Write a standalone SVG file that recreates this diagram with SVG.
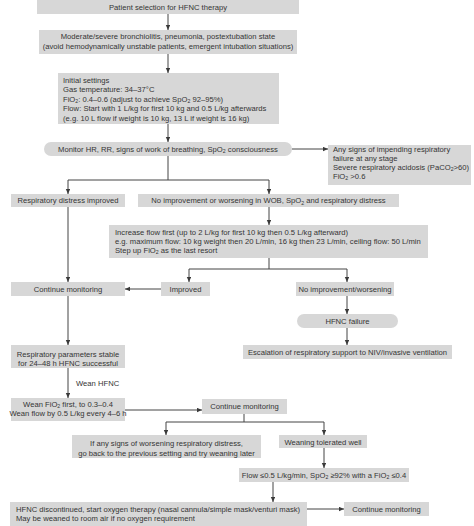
<svg xmlns="http://www.w3.org/2000/svg" width="474" height="526" viewBox="0 0 474 526">
<defs>
<marker id="ah" markerWidth="5" markerHeight="5" refX="5" refY="2.2" orient="auto" markerUnits="userSpaceOnUse">
<path d="M0,0 L5,2.2 L0,4.4 z" fill="#3a3a3a"/>
</marker>
<style>
rect{fill:#d7d7d7;stroke:none}
text{font-family:"Liberation Sans",Arial,sans-serif;font-size:7.65px;fill:#353535}
.c{text-anchor:middle}
.s{font-size:5.2px}
#connectors line,#connectors polyline{stroke:#444;stroke-width:1;fill:none}
.a{marker-end:url(#ah)}
</style>
</defs>
<rect width="474" height="526" style="fill:#fff"/>
<g id="connectors">
<line class="a" x1="168" y1="14" x2="168" y2="30"/>
<line class="a" x1="168" y1="54" x2="168" y2="73"/>
<line class="a" x1="168" y1="124" x2="168" y2="142"/>
<line class="a" x1="292" y1="149" x2="328" y2="149"/>
<line x1="168" y1="156" x2="168" y2="180"/>
<line x1="68" y1="180" x2="269" y2="180"/>
<line class="a" x1="68" y1="180" x2="68" y2="194"/>
<line class="a" x1="269" y1="180" x2="269" y2="194"/>
<line class="a" x1="269" y1="207" x2="269" y2="225"/>
<line class="a" x1="68" y1="207" x2="68" y2="282"/>
<line x1="269" y1="258" x2="269" y2="269"/>
<line x1="189" y1="269" x2="347" y2="269"/>
<line class="a" x1="189" y1="269" x2="189" y2="282"/>
<line class="a" x1="347" y1="269" x2="347" y2="282"/>
<line class="a" x1="161" y1="289" x2="125" y2="289"/>
<line class="a" x1="347" y1="296" x2="347" y2="314"/>
<line class="a" x1="347" y1="328" x2="347" y2="345"/>
<line class="a" x1="68" y1="296" x2="68" y2="345"/>
<line class="a" x1="68" y1="368" x2="68" y2="398"/>
<line class="a" x1="125" y1="410" x2="202" y2="410"/>
<line x1="244" y1="414" x2="244" y2="422"/>
<line x1="166" y1="422" x2="324" y2="422"/>
<line class="a" x1="166" y1="422" x2="166" y2="435"/>
<line class="a" x1="324" y1="422" x2="324" y2="435"/>
<line class="a" x1="324" y1="448" x2="324" y2="468"/>
<line class="a" x1="273" y1="482" x2="273" y2="502"/>
<line class="a" x1="307" y1="509" x2="344" y2="509"/>
</g>
<g id="n1"><rect x="37" y="0" width="262" height="14"/><text class="c" x="168" y="9.5">Patient selection for HFNC therapy</text></g>
<g id="n2"><rect x="39" y="30" width="258" height="24"/><text class="c" x="168" y="38.5">Moderate/severe bronchiolitis, pneumonia, postextubation state</text><text class="c" x="168" y="48.5">(avoid hemodynamically unstable patients, emergent intubation situations)</text></g>
<g id="n3"><rect x="58" y="73" width="221" height="51"/>
<text x="63" y="82.5">Initial settings</text>
<text x="63" y="92">Gas temperature: 34–37°C</text>
<text x="63" y="101.5">FiO<tspan class="s" dy="1.5">2</tspan><tspan dy="-1.5">: 0.4–0.6 (adjust to achieve SpO</tspan><tspan class="s" dy="1.5">2</tspan><tspan dy="-1.5"> 92–95%)</tspan></text>
<text x="63" y="111">Flow: Start with 1 L/kg for first 10 kg and 0.5 L/kg afterwards</text>
<text x="63" y="120.5">(e.g. 10 L flow if weight is 10 kg, 13 L if weight is 16 kg)</text></g>
<g id="n4"><rect x="44" y="142" width="248" height="14" rx="7"/><text class="c" x="168" y="151.5">Monitor HR, RR, signs of work of breathing, SpO<tspan class="s" dy="1.5">2</tspan><tspan dy="-1.5"> consciousness</tspan></text></g>
<g id="n5"><rect x="328" y="145" width="143" height="40"/>
<text x="333" y="151.5">Any signs of impending respiratory</text>
<text x="333" y="160.5">failure at any stage</text>
<text x="333" y="169.5">Severe respiratory acidosis (PaCO<tspan class="s" dy="1.5">2</tspan><tspan dy="-1.5">&gt;60)</tspan></text>
<text x="333" y="178.5">FiO<tspan class="s" dy="1.5">2</tspan><tspan dy="-1.5"> &gt;0.6</tspan></text></g>
<g id="n6"><rect x="11" y="194" width="114" height="13"/><text class="c" x="68" y="203">Respiratory distress improved</text></g>
<g id="n7"><rect x="138" y="194" width="261" height="13"/><text class="c" x="268.5" y="203">No improvement or worsening in WOB, SpO<tspan class="s" dy="1.5">2</tspan><tspan dy="-1.5"> and respiratory distress</tspan></text></g>
<g id="n8"><rect x="109" y="225" width="319" height="33"/>
<text x="115" y="234.5">Increase flow first (up to 2 L/kg for first 10 kg then 0.5 L/kg afterward)</text>
<text x="115" y="243.5">e.g. maximum flow: 10 kg weight then 20 L/min, 16 kg then 23 L/min, ceiling flow: 50 L/min</text>
<text x="115" y="252.5">Step up FiO<tspan class="s" dy="1.5">2</tspan><tspan dy="-1.5"> as the last resort</tspan></text></g>
<g id="n9"><rect x="161" y="282" width="49" height="14"/><text class="c" x="185.5" y="291.5">Improved</text></g>
<g id="n10"><rect x="11" y="282" width="114" height="14"/><text class="c" x="68" y="291.5">Continue monitoring</text></g>
<g id="n11"><rect x="296" y="282" width="98" height="14"/><text class="c" x="345" y="291.5">No improvement/worsening</text></g>
<g id="n12"><rect x="297" y="314" width="101" height="14" rx="7"/><text class="c" x="347.5" y="323.5">HFNC failure</text></g>
<g id="n13"><rect x="243" y="345" width="209" height="14"/><text class="c" x="347.5" y="354.5">Escalation of respiratory support to NIV/invasive ventilation</text></g>
<g id="n14"><rect x="11" y="345" width="114" height="23"/><text class="c" x="68" y="356.5">Respiratory parameters stable</text><text class="c" x="68" y="365.5">for 24–48 h HFNC successful</text></g>
<g id="lbl"><text x="76" y="385.5">Wean HFNC</text></g>
<g id="n15"><rect x="11" y="398" width="114" height="23"/><text class="c" x="68" y="406.5">Wean FiO<tspan class="s" dy="1.5">2</tspan><tspan dy="-1.5"> first, to 0.3–0.4</tspan></text><text class="c" x="68" y="415.5">Wean flow by 0.5 L/kg every 4–6 h</text></g>
<g id="n16"><rect x="202" y="399" width="85" height="15"/><text class="c" x="244.5" y="409">Continue monitoring</text></g>
<g id="n17"><rect x="72" y="435" width="189" height="23"/><text class="c" x="166.5" y="445.5">If any signs of worsening respiratory distress,</text><text class="c" x="166.5" y="455.5">go back to the previous setting and try weaning later</text></g>
<g id="n18"><rect x="279" y="435" width="88" height="13"/><text class="c" x="323" y="444.5">Weaning tolerated well</text></g>
<g id="n19"><rect x="239" y="468" width="170" height="14"/><text class="c" x="324" y="477.5">Flow ≤0.5 L/kg/min, SpO<tspan class="s" dy="1.5">2</tspan><tspan dy="-1.5"> ≥92% with a FiO</tspan><tspan class="s" dy="1.5">2</tspan><tspan dy="-1.5"> ≤0.4</tspan></text></g>
<g id="n20"><rect x="10" y="502" width="297" height="24"/><text x="16" y="511.5">HFNC discontinued, start oxygen therapy (nasal cannula/simple mask/venturi mask)</text><text x="16" y="520.5">May be weaned to room air if no oxygen requirement</text></g>
<g id="n21"><rect x="344" y="502" width="85" height="14"/><text class="c" x="386.5" y="511.5">Continue monitoring</text></g>
</svg>
